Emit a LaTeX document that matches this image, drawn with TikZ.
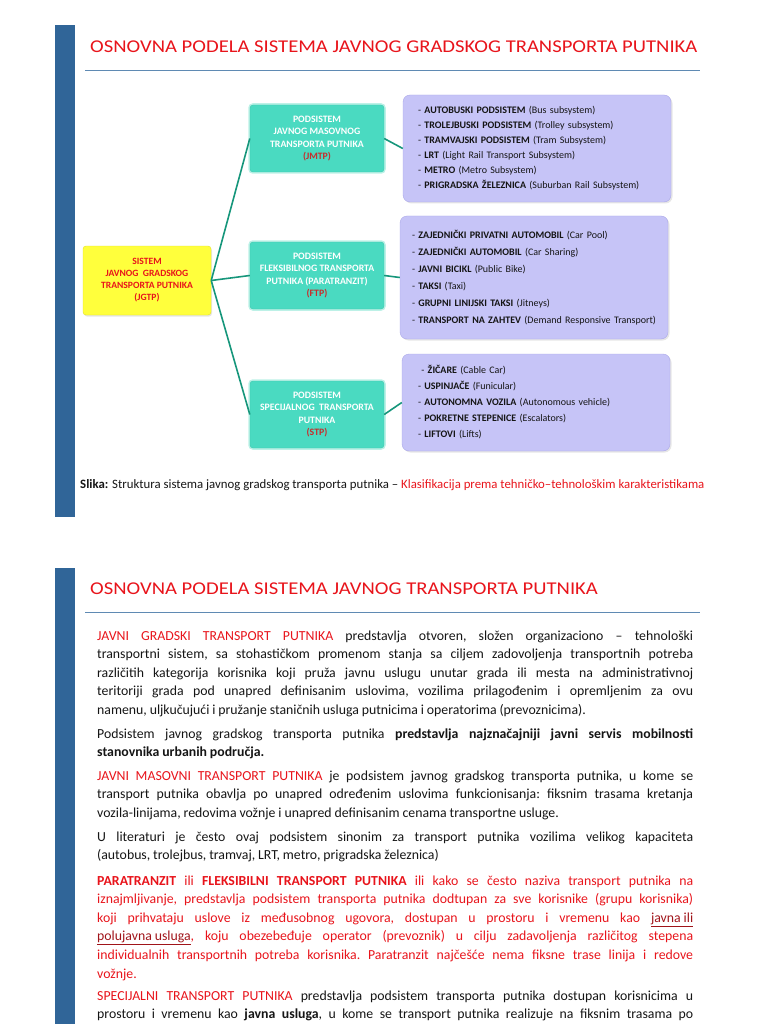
\documentclass[tikz,border=0pt]{standalone}
\usepackage{fontspec}
\setmainfont{Carlito}
\usepackage{xcolor}
\usetikzlibrary{shadows}
\definecolor{SlideBlue}{HTML}{306598}
\definecolor{RuleBlue}{HTML}{5F8AB3}
\definecolor{TitleRed}{HTML}{E8141B}
\definecolor{CodeRed}{HTML}{C62D2D}
\definecolor{UlRed}{HTML}{A0141A}
\definecolor{RootYellow}{HTML}{FFFF3C}
\definecolor{RootEdge}{HTML}{E2E22A}
\definecolor{TealFill}{HTML}{4ADAC1}
\definecolor{TealEdge}{HTML}{3CC8AE}
\definecolor{TealGlow}{HTML}{BDF1E7}
\definecolor{LavFill}{HTML}{C6C4F7}
\definecolor{LavEdge}{HTML}{ABA8E8}
\definecolor{LinkGreen}{HTML}{16967B}
\definecolor{Ink}{HTML}{151515}
\newcommand{\lstentry}[2]{- \textbf{#1} (#2)}
\newcommand{\widetitle}[1]{\scalebox{1.147}[1]{#1}}
\newcommand{\bodysetup}{\fontsize{13.8}{18.6}\selectfont\frenchspacing
  \spaceskip=0.21em plus 0.6em minus 0.07em\relax
  \tolerance=9999\relax}

\begin{document}
\begin{tikzpicture}[x=1pt,y=-1pt,
  bar/.style={fill=SlideBlue,draw=none},
  heading/.style={anchor=base west,inner sep=0pt,text=TitleRed,font=\fontsize{18}{20}\selectfont},
  rule/.style={draw=RuleBlue,line width=0.9pt},
  root/.style={draw=RootEdge,fill=RootYellow,rounded corners=3pt,minimum width=128pt,minimum height=69pt,align=center,text=TitleRed,font=\fontsize{9.6}{12}\selectfont\bfseries,drop shadow={opacity=0.2,shadow xshift=1pt,shadow yshift=-1.5pt}},
  sub/.style={draw=TealEdge,fill=TealFill,rounded corners=3pt,minimum width=134pt,minimum height=67pt,inner xsep=2pt,align=center,text=white,font=\fontsize{9.8}{12.2}\selectfont\bfseries,preaction={draw=TealGlow,line width=3.5pt}},
  listbox/.style={draw=LavEdge,fill=LavFill,rounded corners=7pt,minimum width=268pt,text width=238pt,inner xsep=15pt,align=left,text=Ink,drop shadow={opacity=0.2,shadow xshift=1.5pt,shadow yshift=-1.5pt}},
  link/.style={draw=LinkGreen,line width=1.6pt},
  body/.style={anchor=base west,inner sep=0pt,text width=596pt,align=justify,text=Ink,font=\bodysetup}
]
\useasboundingbox (0,0) rectangle (768,1024);

% slide 1
\fill[bar] (55,25) rectangle (75,517);
\node[heading] (title1) at (90,52.5) {\widetitle{OSNOVNA PODELA SISTEMA JAVNOG GRADSKOG TRANSPORTA PUTNIKA}};
\draw[rule] (85,70) -- (700,70);

\node[root] (jgtp) at (147,280.5) {SISTEM\\JAVNOG\ \ GRADSKOG\\TRANSPORTA PUTNIKA\\(JGTP)};

\node[sub] (jmtp) at (317,138.5) {PODSISTEM\\JAVNOG MASOVNOG\\TRANSPORTA PUTNIKA\\\textcolor{CodeRed}{(JMTP)}};
\node[sub] (ftp) at (317,275.5) {PODSISTEM\\FLEKSIBILNOG TRANSPORTA\\PUTNIKA (PARATRANZIT)\\\textcolor{CodeRed}{(FTP)}};
\node[sub] (stp) at (317,414.5) {PODSISTEM\\SPECIJALNOG\ \ TRANSPORTA\\PUTNIKA\\\textcolor{CodeRed}{(STP)}};

\node[listbox,minimum height=107pt,font=\fontsize{10}{15}\selectfont] (listjmtp) at (537,148.5) {%
\lstentry{AUTOBUSKI PODSISTEM}{Bus subsystem}\\
\lstentry{TROLEJBUSKI PODSISTEM}{Trolley subsystem}\\
\lstentry{TRAMVAJSKI PODSISTEM}{Tram Subsystem}\\
\lstentry{LRT}{Light Rail Transport Subsystem}\\
\lstentry{METRO}{Metro Subsystem}\\
\lstentry{PRIGRADSKA ŽELEZNICA}{Suburban Rail Subsystem}};
\node[listbox,minimum height=123pt,inner xsep=12pt,text width=244pt,font=\fontsize{10}{17}\selectfont] (listftp) at (534,277.5) {%
\lstentry{ZAJEDNIČKI PRIVATNI AUTOMOBIL}{Car Pool}\\
\lstentry{ZAJEDNIČKI AUTOMOBIL}{Car Sharing}\\
\lstentry{JAVNI BICIKL}{Public Bike}\\
\lstentry{TAKSI}{Taxi}\\
\lstentry{GRUPNI LINIJSKI TAKSI}{Jitneys}\\
\lstentry{TRANSPORT NA ZAHTEV}{Demand Responsive Transport}};
\node[listbox,minimum height=97pt,inner xsep=16pt,text width=236pt,font=\fontsize{10}{16}\selectfont] (liststp) at (536,402.5) {%
\ \lstentry{ŽIČARE}{Cable Car}\\
\lstentry{USPINJAČE}{Funicular}\\
\lstentry{AUTONOMNA VOZILA}{Autonomous vehicle}\\
\lstentry{POKRETNE STEPENICE}{Escalators}\\
\lstentry{LIFTOVI}{Lifts}};

\draw[link] (jgtp.east) -- (jmtp.west);
\draw[link] (jgtp.east) -- (ftp.west);
\draw[link] (jgtp.east) -- (stp.west);
\draw[link] (jmtp.east) -- (listjmtp.west);
\draw[link] (ftp.east) -- (listftp.west);
\draw[link] (stp.east) -- (liststp.west);

\node[anchor=base west,inner sep=0pt,text=Ink,font=\fontsize{12.8}{14}\selectfont] (caption) at (80,488) {\textbf{Slika:} Struktura sistema javnog gradskog transporta putnika – \textcolor{TitleRed}{Klasifikacija prema tehničko–tehnološkim karakteristikama}};

% slide 2
\fill[bar] (55,568) rectangle (75,1030);
\node[heading] (title2) at (90,594.5) {\widetitle{OSNOVNA PODELA SISTEMA JAVNOG TRANSPORTA PUTNIKA}};
\draw[rule] (85,612) -- (700,612);

\node[body] (par1) at (97,640) {\textcolor{TitleRed}{JAVNI GRADSKI TRANSPORT PUTNIKA} predstavlja otvoren, složen organizaciono – tehnološki\linebreak
transportni sistem, sa stohastičkom promenom stanja sa ciljem zadovoljenja transportnih potreba\linebreak
različitih kategorija korisnika koji pruža javnu uslugu unutar grada ili mesta na administrativnoj\linebreak
teritoriji grada pod unapred definisanim uslovima, vozilima prilagođenim i opremljenim za ovu\linebreak
namenu, uljkučujući i pružanje staničnih usluga putnicima i operatorima (prevoznicima).};

\node[body] (par2) at (97,738) {Podsistem javnog gradskog transporta putnika \textbf{predstavlja najznačajniji javni servis mobilnosti\linebreak
stanovnika urbanih područja.}};

\node[body] (par3) at (97,780) {\textcolor{TitleRed}{JAVNI MASOVNI TRANSPORT PUTNIKA} je podsistem javnog gradskog transporta putnika, u kome se\linebreak
transport putnika obavlja po unapred određenim uslovima funkcionisanja: fiksnim trasama kretanja\linebreak
vozila-linijama, redovima vožnje i unapred definisanim cenama transportne usluge.};

\node[body] (par4) at (97,841) {U literaturi je često ovaj podsistem sinonim za transport putnika vozilima velikog kapaciteta\linebreak
(autobus, trolejbus, tramvaj, LRT, metro, prigradska železnica)};

\node[body,text=TitleRed] (par5) at (97,885) {\textbf{PARATRANZIT} ili \textbf{FLEKSIBILNI TRANSPORT PUTNIKA} ili kako se često naziva transport putnika na\linebreak
iznajmljivanje, predstavlja podsistem transporta putnika dodtupan za sve korisnike (grupu korisnika)\linebreak
koji prihvataju uslove iz međusobnog ugovora, dostupan u prostoru i vremenu kao \textcolor{UlRed}{\underline{javna ili}}\linebreak
\textcolor{UlRed}{\underline{polujavna usluga}}, koju obezebeđuje operator (prevoznik) u cilju zadavoljenja različitog stepena\linebreak
individualnih transportnih potreba korisnika. Paratranzit najčešće nema fiksne trase linija i redove\linebreak
vožnje.};

\node[body] (par6) at (97,1000) {\textcolor{TitleRed}{SPECIJALNI TRANSPORT PUTNIKA} predstavlja podsistem transporta putnika dostupan korisnicima u\linebreak
prostoru i vremenu kao \textbf{javna usluga}, u kome se transport putnika realizuje na fiksnim trasama po\linebreak\mbox{}};
\end{tikzpicture}
\end{document}
